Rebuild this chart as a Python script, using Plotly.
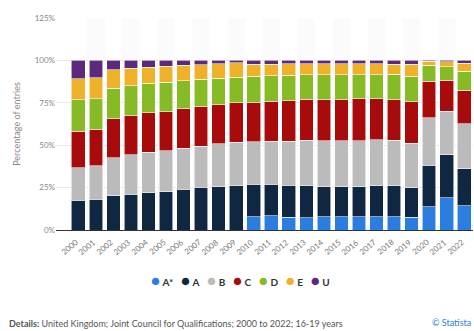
import plotly.graph_objects as go

years = [str(y) for y in range(2000, 2023)]

grade_names = ["A*", "A", "B", "C", "D", "E", "U"]
grade_colors = ["#2b7de0", "#0f2740", "#bbbbbb", "#a80b0b", "#86bb26", "#f0b12a", "#5b2a7c"]

a_star = [0, 0, 0, 0, 0, 0, 0, 0, 0, 0,
          7.9, 8.3, 7.6, 7.2, 7.9, 7.9, 7.9, 7.9, 7.7, 7.5, 13.8, 19.1, 14.4]
a = [17.5, 18.1, 20.1, 21.1, 22.1, 22.5, 24.1, 25.1, 25.4, 26.0,
     19.1, 18.7, 18.8, 18.8, 17.7, 17.7, 17.5, 18.1, 18.3, 17.5, 24.3, 25.3, 21.7]
b = [19.2, 19.9, 22.5, 23.3, 23.7, 24.1, 24.0, 24.4, 25.5, 25.7,
     24.9, 25.3, 25.9, 26.9, 26.9, 27.1, 27.3, 27.3, 26.8, 26.3, 28.0, 25.6, 26.6]
c = [21.5, 21.2, 22.9, 23.1, 23.2, 23.0, 23.3, 23.3, 23.1, 23.3,
     23.1, 23.6, 24.0, 24.2, 24.4, 24.2, 24.6, 24.2, 24.1, 24.2, 21.7, 18.3, 19.7]
d = [18.6, 18.3, 18.1, 17.7, 17.6, 17.4, 16.6, 16.2, 15.5, 15.0,
     15.7, 15.0, 14.8, 14.4, 14.6, 14.6, 14.2, 14.0, 14.8, 15.3, 9.2, 8.0, 11.3]
e = [12.4, 12.2, 10.9, 10.3, 9.5, 9.5, 9.1, 8.5, 8.5, 8.5,
     7.1, 6.9, 6.9, 6.5, 6.5, 6.5, 6.5, 6.5, 6.1, 6.8, 2.6, 3.0, 4.5]
u = [10.8, 10.3, 5.5, 4.5, 3.9, 3.5, 2.9, 2.5, 2.0, 1.5,
     2.2, 2.2, 2.0, 2.0, 2.0, 2.0, 2.0, 2.0, 2.2, 2.4, 0.4, 0.7, 1.8]

series = [a_star, a, b, c, d, e, u]

y_ticks = [0, 25, 50, 75, 100, 125]
y_tick_labels = ["0%", "25%", "50%", "75%", "100%", "125%"]

fig = go.Figure()
for name, color, vals in zip(grade_names, grade_colors, series):
    fig.add_trace(go.Bar(
        x=years, y=vals, name=name, showlegend=False,
        marker=dict(color=color, line=dict(color="rgba(255,255,255,0.7)", width=0.8)),
    ))

# faint alternating column bands
shapes = []
for i in range(len(years)):
    if i % 2 == 1:
        shapes.append(dict(type="rect", xref="x", yref="y", x0=i - 0.5, x1=i + 0.5,
                           y0=0, y1=125, fillcolor="#fbfbfb", line=dict(width=0),
                           layer="below"))

annotations = []
# rotated category labels (category axis: annotation x is the category index)
for i, yr in enumerate(years):
    annotations.append(dict(
        text=yr, xref="x", yref="paper", x=i, y=-0.078, xshift=-9,
        xanchor="center", yanchor="middle", textangle=-40, showarrow=False,
        font=dict(size=8, color="#777777", family="Lato"),
    ))

# custom legend with round markers
legend_parts = []
for name, color in zip(grade_names, grade_colors):
    legend_parts.append(
        f"<span style='color:{color};font-size:15px'>●</span> <b>{name}</b>"
    )
legend_text = "   ".join(legend_parts)

annotations += [
    dict(text=legend_text,
         xref="paper", yref="paper", x=0.442, y=-0.236, xanchor="center", yanchor="middle",
         showarrow=False, font=dict(size=10, color="#333333", family="Lato")),
    dict(text="<b>Details:</b> United Kingdom; Joint Council for Qualifications; 2000 to 2022; 16-19 years",
         xref="paper", yref="paper", x=-0.118, y=-0.443, xanchor="left", yanchor="middle",
         showarrow=False, font=dict(size=9, color="#555555", family="Lato")),
    dict(text="© Statista",
         xref="paper", yref="paper", x=1.0, y=-0.435, xanchor="right", yanchor="middle",
         showarrow=False, font=dict(size=9, color="#2b7de0", family="Lato")),
]

fig.update_layout(
    width=474, height=331,
    margin=dict(l=56, r=1, t=18, b=101),
    barmode="stack",
    bargap=0.22,
    plot_bgcolor="white",
    paper_bgcolor="white",
    font=dict(family="Lato, Open Sans, sans-serif", color="#666666"),
    shapes=shapes,
    showlegend=False,
    xaxis=dict(
        type="category",
        categoryorder="array", categoryarray=years,
        showticklabels=False,
        showgrid=False,
        showline=True, linecolor="#333333", linewidth=1,
        ticks="", ticklen=0,
    ),
    yaxis=dict(
        range=[0, 125],
        tickvals=y_ticks, ticktext=y_tick_labels,
        tickfont=dict(size=8, color="#888888"),
        gridcolor="#eaeaea", gridwidth=1,
        zeroline=False,
        title=dict(text="Percentage of entries", font=dict(size=9, color="#888888"), standoff=12),
    ),
    annotations=annotations,
)

fig.write_html("out.html")
